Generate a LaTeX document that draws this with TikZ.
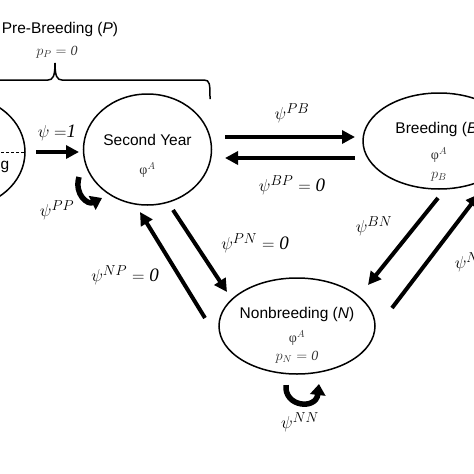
\documentclass[tikz,border=0pt]{standalone}
\usepackage{fontspec}
\setmainfont{Liberation Serif}
\setsansfont{Liberation Sans}
\usetikzlibrary{shapes.geometric, arrows.meta}

\begin{document}
\begin{tikzpicture}[x=1pt, y=-1pt,
    state/.style = {draw, ellipse, line width=1.5pt, inner sep=0pt},
    arr/.style = {line width=4pt, -{Triangle[length=13pt, width=13pt]}},
    selfarr/.style = {line width=5.5pt, -{Triangle[length=11pt, width=15pt]}},
    lbl/.style = {font=\fontsize{19}{22}\selectfont, inner sep=0pt},
    txt/.style = {font=\sffamily\fontsize{15.5}{18}\selectfont, inner sep=0pt},
    est/.style = {font=\fontsize{14}{16}\selectfont, inner sep=0pt, text=black!80}]
    \useasboundingbox (0,0) rectangle (474,474);
    \clip (0,0) rectangle (474,474);

    % states
    \node[state, minimum width=128pt, minimum height=111pt] (fy) at (-39,152) {};
    \draw[line width=1pt, dash pattern=on 3pt off 2pt] (fy.west) -- (fy.east);
    \node[txt, anchor=base east] at ([shift={(48.5,17)}]fy.center) {g};

    \node[state, minimum width=128pt, minimum height=111pt] (sy) at (147.5,149.5) {};
    \node[txt] at ([yshift=9.5pt]sy.center) {Second Year};
    \node[est] at ([yshift=-20.5pt]sy.center) {φ$^{A}$};

    \node[state, minimum width=152pt, minimum height=96pt] (br) at (439,141) {};
    \node[txt] at ([yshift=12pt]br.center) {Breeding (\textit{B})};
    \node[est] at ([yshift=-14pt]br.center) {φ$^{A}$};
    \node[est] at ([yshift=-36pt]br.center) {$p_B$};

    \node[state, minimum width=156pt, minimum height=96pt] (nb) at (297,326) {};
    \node[txt] at ([yshift=12pt]nb.center) {Nonbreeding (\textit{N})};
    \node[est] at ([yshift=-12pt]nb.center) {φ$^{A}$};
    \node[est] at ([yshift=-31pt]nb.center) {$p_N = \mathit{0}$};

    % pre-breeding brace
    \node[txt] (pre) at (60,29) {Pre-Breeding (\textit{P})};
    \node[est] at (57,52) {$p_P = \mathit{0}$};
    \draw[line width=1.5pt] (-100,99) .. controls (-100,84) and (-100,80) .. (-92,80)
        -- (48,80) .. controls (53,80) and (55,76) .. (55,63)
        .. controls (55,76) and (57,80) .. (62,80)
        -- (204,80) .. controls (210,80) and (210,84) .. (210,99);

    % transitions
    \draw[arr] ([shift={(75,0)}]fy.center) -- ([shift={(-68.5,2.5)}]sy.center);
    \node[lbl] at (57,133) {$\psi\;{=}\mathit{1}$};

    \draw[arr] ([shift={(77.5,-12.5)}]sy.center) -- ([shift={(-84,-4)}]br.center);
    \node[lbl] at (292,113) {$\psi^{PB}$};
    \draw[arr] ([shift={(-84,17)}]br.center) -- ([shift={(77.5,8.5)}]sy.center);
    \node[lbl] at (292,185) {$\psi^{BP} = \mathit{0}$};

    \draw[arr] ([shift={(25.5,60.5)}]sy.center) -- ([shift={(-70,-34)}]nb.center);
    \node[lbl] at (255,243) {$\psi^{PN} = \mathit{0}$};
    \draw[arr] ([shift={(-92,-8)}]nb.center) -- ([shift={(-7.5,62.5)}]sy.center);
    \node[lbl] at (125,275) {$\psi^{NP} = \mathit{0}$};

    \draw[arr] ([shift={(-1,57)}]br.center) -- ([shift={(71,-41)}]nb.center);
    \node[lbl] at (374,226) {$\psi^{BN}$};
    \draw[arr] ([shift={(95,-18)}]nb.center) -- ([shift={(40,53)}]br.center);
    \node[lbl] at (473,262) {$\psi^{NB}$};

    % staying in the same state
    \draw[selfarr] ([shift={(-68.5,27.5)}]sy.center)
        .. controls ([shift={(-73.5,45.5)}]sy.center) and ([shift={(-59.5,55.5)}]sy.center)
        .. ([shift={(-45.5,48.5)}]sy.center);
    \node[lbl] at (57,210) {$\psi^{PP}$};
    \draw[selfarr] ([shift={(-11,59)}]nb.center)
        .. controls ([shift={(-13,81)}]nb.center) and ([shift={(19,84)}]nb.center)
        .. ([shift={(22,58)}]nb.center);
    \node[lbl] at (300,422) {$\psi^{NN}$};
\end{tikzpicture}
\end{document}
